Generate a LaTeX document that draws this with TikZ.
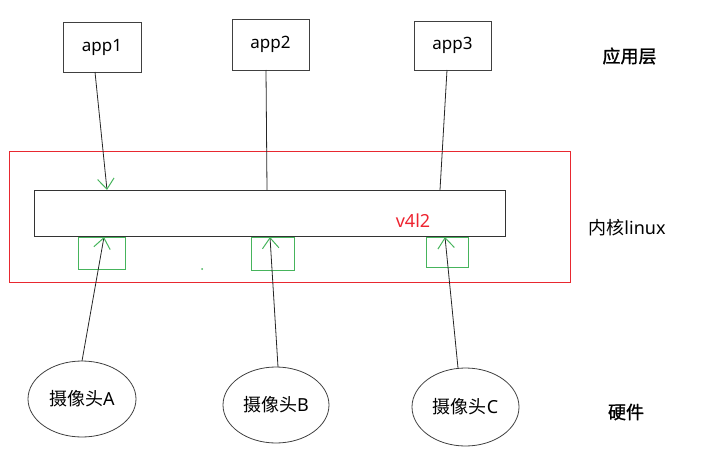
\documentclass[tikz,border=0pt]{standalone}
\usepackage{fontspec}
\setmainfont{Noto Sans}
\newfontfamily\cjk{Noto Sans CJK SC}
\newfontfamily\cjkbold[FakeBold=1.2]{Noto Sans CJK SC}
\usetikzlibrary{arrows.meta, shapes.geometric, positioning}
\definecolor{kernelred}{RGB}{232,40,48}
\definecolor{labelred}{RGB}{238,36,48}
\definecolor{slotgreen}{RGB}{70,180,92}

\begin{document}
\begin{tikzpicture}[x=1pt, y=-1pt,
  every node/.style={inner sep=0pt, outer sep=0pt},
  kernelbox/.style={draw=kernelred, line width=1.1pt},
  appbox/.style={draw=black!75, line width=0.8pt, minimum width=78pt, minimum height=50pt, font=\fontsize{17}{20}\selectfont},
  slotbox/.style={draw=slotgreen, line width=0.8pt},
  cam/.style={ellipse, draw=black!75, line width=0.8pt, minimum width=107pt, minimum height=77pt, font=\fontsize{18}{20}\selectfont},
  layer/.style={font=\cjkbold\fontsize{18}{20}\selectfont},
  link/.style={draw=black!85, line width=0.8pt},
  tipgreen/.style={-{Straight Barb[color=slotgreen, length=7pt, width=11pt, line width=1pt, scale=1.5]}}]
\useasboundingbox (0,0) rectangle (704,452);
% Nodes
\node (kernel) [kernelbox, minimum width=561pt, minimum height=131pt] at (290,217) {};
\node (bar) [draw=black!80, line width=0.8pt, minimum width=471pt, minimum height=46pt] at (269.5,213) {};
\node (v4l2) [text=labelred, font=\fontsize{18}{20}\selectfont] at (413,221) {v4l2};
\node (app1) [appbox] at (102,47) {app1};
\node (app2) [appbox, minimum width=77pt, minimum height=51pt] at (270.5,44.5) {app2};
\node (app3) [appbox, minimum width=77pt, minimum height=49pt] at (452.5,45.5) {app3};
\node (slotA) [slotbox, minimum width=47pt, minimum height=32pt] at (101.5,253) {};
\node (slotB) [slotbox, minimum width=43pt, minimum height=33pt] at (272.5,253.5) {};
\node (slotC) [slotbox, minimum width=42pt, minimum height=30pt] at (447,252) {};
\node (dot) [circle, fill=slotgreen, minimum size=2pt] at (202,269) {};
\node (camA) [cam, minimum width=108pt, minimum height=76pt] at (82,399) {{\cjk 摄像头}A};
\node (camB) [cam, minimum width=106pt, minimum height=76pt] at (276,405) {{\cjk 摄像头}B};
\node (camC) [cam, minimum height=78pt] at (465.5,407) {{\cjk 摄像头}C};
\node (appl) [layer] at (629.5,56) {应用层};
\node (kern) [font=\fontsize{18}{20}\selectfont] at (627,228) {{\cjk 内核}linux};
\node (hw) [layer] at (626,412) {硬件};
% Arrows
\draw[link, tipgreen] ([xshift=-7pt]app1.south) -- ([xshift=5pt]app1.south |- bar.north);
\draw[link] ([xshift=-4.5pt]app2.south) -- ([xshift=-3.5pt]app2.south |- bar.north);
\draw[link] ([xshift=-5.5pt]app3.south) -- ([xshift=-12.5pt]app3.south |- bar.north);
\draw[link, tipgreen] (camA.north) -- ([xshift=2.5pt]slotA.north);
\draw[link, tipgreen] ([xshift=2pt]camB.north) -- ([xshift=-2.5pt]slotB.north);
\draw[link, tipgreen] ([xshift=-7.5pt]camC.north) -- ([xshift=-2pt]slotC.north);
\end{tikzpicture}
\end{document}
